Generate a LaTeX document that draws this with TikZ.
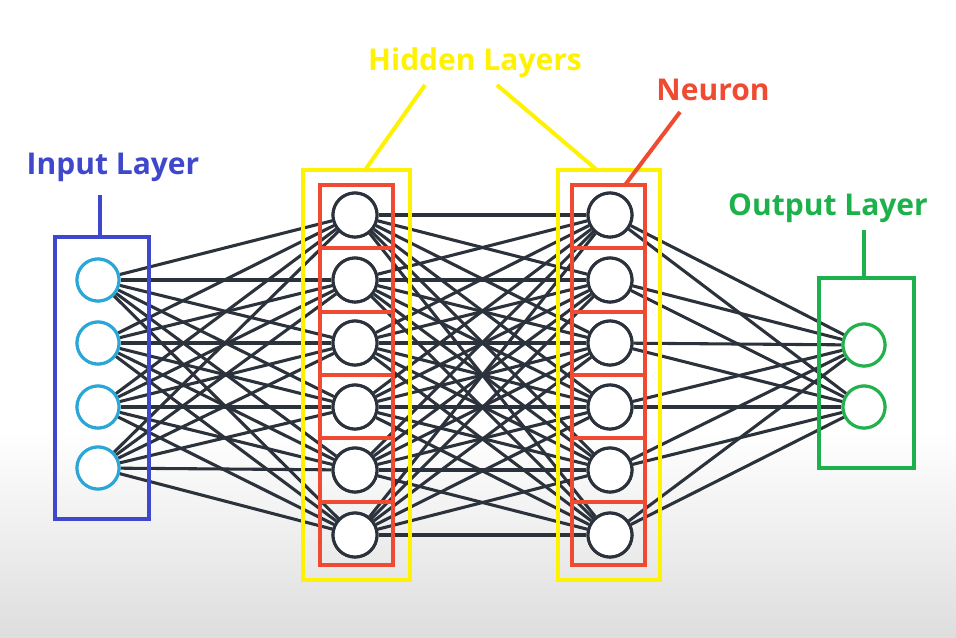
\documentclass[tikz,border=0pt]{standalone}
\usepackage{fontspec}
\setmainfont{Open Sans}
\begin{document}
\begin{tikzpicture}[x=0.75pt,y=-0.75pt,
  conn/.style={draw=conncol, line width=2.3pt},
  nrn/.style={circle, minimum size=44*0.75pt, inner sep=0pt, line width=2.3pt, draw=conncol, fill=white},
  inn/.style={nrn, draw=incol, minimum size=42*0.75pt},
  outn/.style={nrn, draw=outcol, minimum size=42*0.75pt},
  lbl/.style={font=\bfseries\fontsize{22.5}{26}\selectfont, inner sep=0pt},
  box/.style={line width=3pt}]
\definecolor{conncol}{HTML}{2B323B}
\definecolor{incol}{HTML}{2AA7D6}
\definecolor{outcol}{HTML}{22B14C}
\definecolor{bluec}{HTML}{3F48CC}
\definecolor{yel}{HTML}{FFF200}
\definecolor{redc}{HTML}{EE4B32}
\definecolor{greenc}{HTML}{1DB14B}
\useasboundingbox (0,0) rectangle (956,637);
\fill[white] (0,0) rectangle (956,430);
\shade[top color=white, bottom color=black!13] (0,430) rectangle (956,637);
% nodes
\foreach \i/\y in {1/280,2/343,3/407,4/468} \node[inn] (i\i) at (98,\y) {};
\foreach \i/\y in {1/215,2/280,3/343,4/407,5/470,6/535} {
  \node[nrn] (a\i) at (355,\y) {};
  \node[nrn] (b\i) at (610,\y) {};}
\foreach \i/\y in {1/345,2/407} \node[outn] (o\i) at (864,\y) {};
% connections
\foreach \i in {1,...,4} \foreach \j in {1,...,6} \draw[conn] (i\i) -- (a\j);
\foreach \i in {1,...,6} \foreach \j in {1,...,6} \draw[conn] (a\i) -- (b\j);
\foreach \i in {1,...,6} \foreach \j in {1,2} \draw[conn] (b\i) -- (o\j);
% redraw nodes on top
\foreach \i/\y in {1/280,2/343,3/407,4/468} \node[inn] at (98,\y) {};
\foreach \i/\y in {1/215,2/280,3/343,4/407,5/470,6/535} {
  \node[nrn] at (355,\y) {};
  \node[nrn] at (610,\y) {};}
\foreach \i/\y in {1/345,2/407} \node[outn] at (864,\y) {};
% boxes
\draw[box, bluec] (55,237) rectangle (149,519);
\draw[box, greenc] (819,278) rectangle (914,468);
\foreach \x in {320,572} {
  \draw[box, redc] (\x,185) rectangle (\x+73,565);
  \foreach \y in {248,312,375,438,502} \draw[box, redc] (\x,\y) -- (\x+73,\y);}
\draw[box, yel] (303,170) rectangle (410,580);
\draw[box, yel] (558,170) rectangle (660,580);
% labels
\node[lbl, text=bluec] (li) at (113,167) {Input Layer};
\draw[box, bluec] (100,195) -- (100,237);
\node[lbl, text=greenc] (lo) at (828,208) {Output Layer};
\draw[box, greenc] (864,230) -- (864,278);
\node[lbl, text=yel] (lh) at (475,63) {Hidden Layers};
\draw[box, yel] (425,85) -- (365,170);
\draw[box, yel] (497,85) -- (597,170);
\node[lbl, text=redc] (ln) at (713,90) {Neuron};
\draw[box, redc] (680,112) -- (625,185);
\end{tikzpicture}
\end{document}
